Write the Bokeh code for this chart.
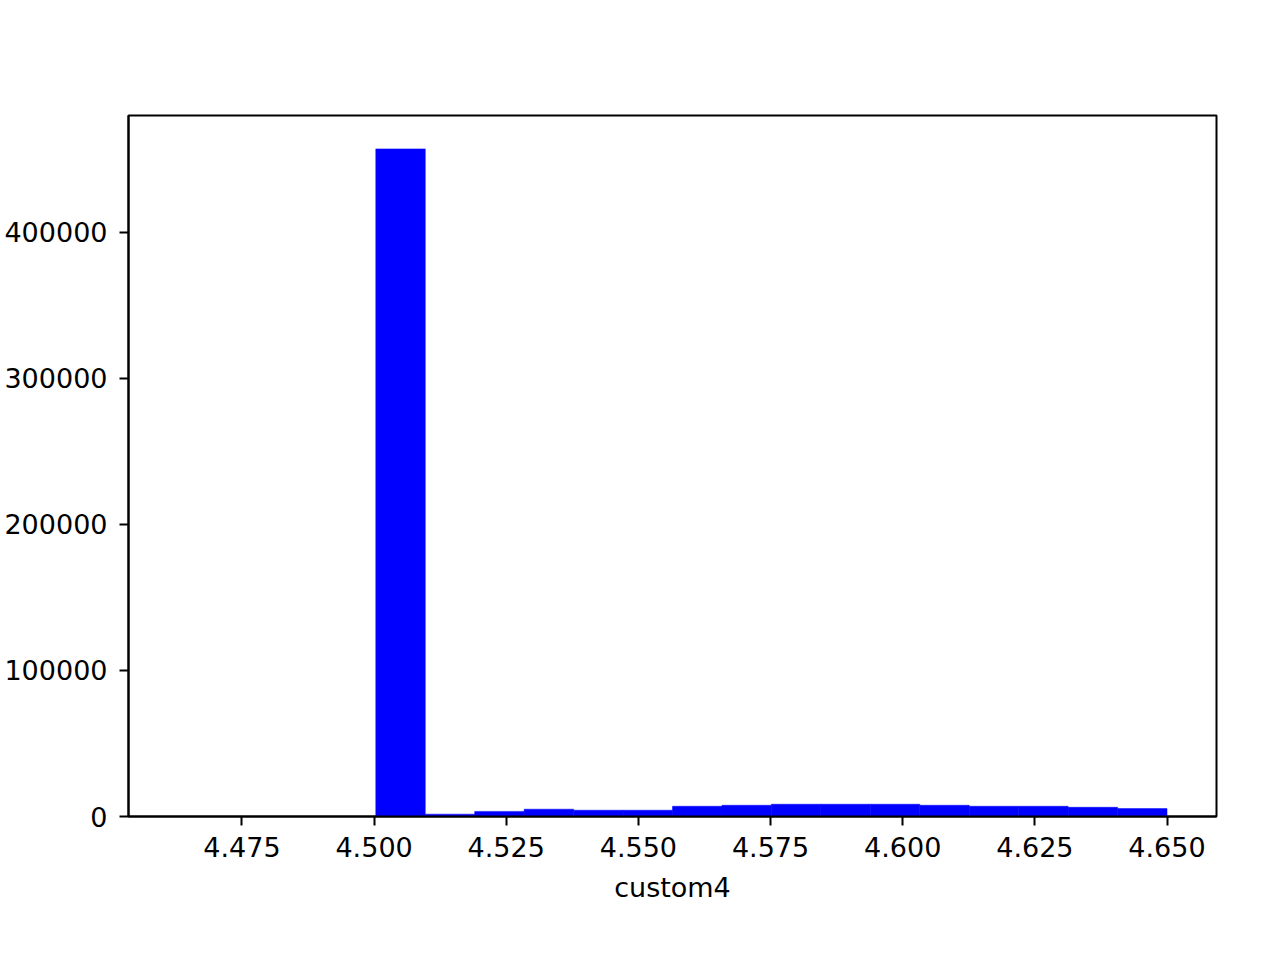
from bokeh.plotting import figure
from bokeh.models import Range1d, FixedTicker, PrintfTickFormatter
from bokeh.embed import file_html
from bokeh.resources import INLINE

# histogram of custom4: 20 bins between min and max
bin_edges = [4.46290, 4.47226, 4.48161, 4.49097, 4.50032, 4.50968, 4.51903,
             4.52839, 4.53774, 4.54710, 4.55645, 4.56581, 4.57516, 4.58452,
             4.59387, 4.60323, 4.61258, 4.62194, 4.63129, 4.64065, 4.65000]
counts = [0, 0, 0, 0, 457000, 1600, 3500, 5000, 4300, 4300,
          7000, 7700, 8400, 8400, 8400, 7700, 7000, 7000, 6300, 5400]
x_ticks = [4.475, 4.500, 4.525, 4.550, 4.575, 4.600, 4.625, 4.650]
y_ticks = [0, 100000, 200000, 300000, 400000]

FONT = "DejaVu Sans"
FS = "27px"

p = figure(
    width=1264,
    height=944,
    x_range=Range1d(4.45354, 4.65936),
    y_range=Range1d(0, 479850),
    output_backend="svg",
    toolbar_location=None,
    tools="",
    min_border_left=128,
    min_border_right=48,
    min_border_top=115,
    min_border_bottom=128,
)

p.quad(
    left=bin_edges[:-1],
    right=bin_edges[1:],
    top=counts,
    bottom=0,
    fill_color="#0000ff",
    line_color="#0000ff",
    line_width=0.5,
)

# Style
p.grid.grid_line_color = None
p.outline_line_color = "black"
p.outline_line_width = 2
p.background_fill_color = "white"
p.border_fill_color = "white"

p.xaxis.ticker = FixedTicker(ticks=x_ticks)
p.xaxis.formatter = PrintfTickFormatter(format="%.3f")
p.yaxis.ticker = FixedTicker(ticks=y_ticks)
p.yaxis.formatter = PrintfTickFormatter(format="%d")
p.xaxis.axis_label = "custom4"

for ax in [p.xaxis, p.yaxis]:
    ax.minor_tick_line_color = None
    ax.major_tick_in = 0
    ax.major_tick_out = 9
    ax.major_tick_line_width = 2
    ax.axis_line_width = 2
    ax.major_label_text_font = FONT
    ax.major_label_text_font_size = FS
    ax.major_label_text_color = "black"
    ax.axis_label_text_font = FONT
    ax.axis_label_text_font_size = FS
    ax.axis_label_text_font_style = "normal"
    ax.axis_label_text_color = "black"

p.yaxis.major_label_standoff = 12
p.xaxis.major_label_standoff = 11
p.xaxis.axis_label_standoff = 12

open("out.html", "w").write(file_html(p, INLINE))
